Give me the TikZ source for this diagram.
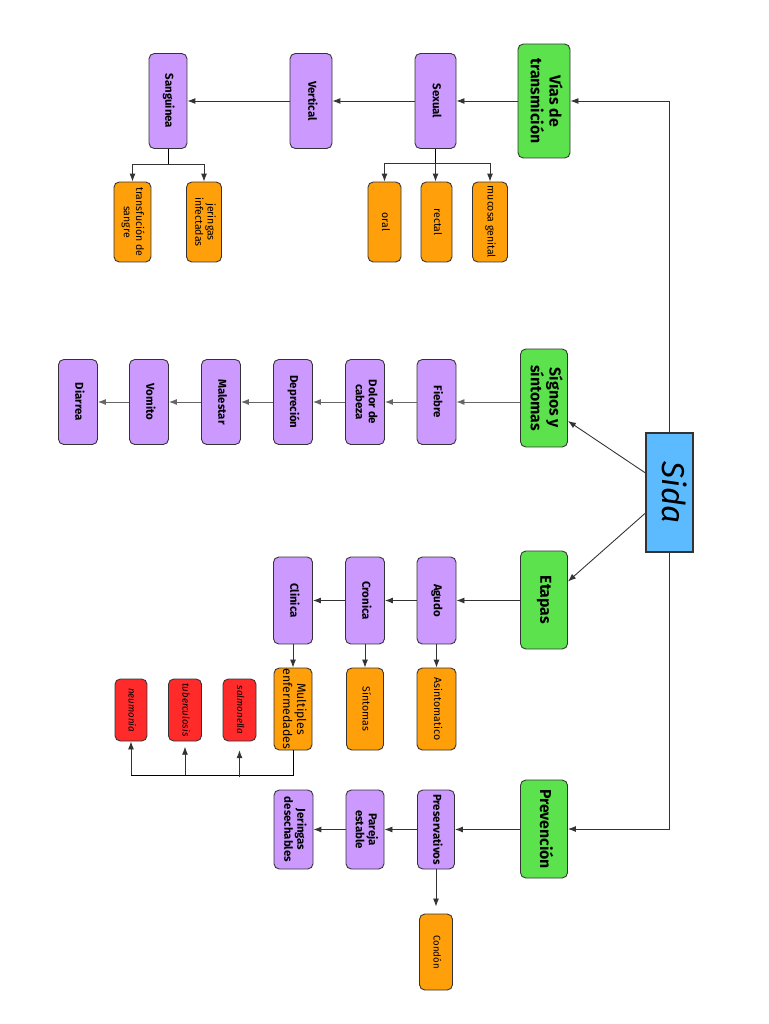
\documentclass[tikz,border=0pt]{standalone}
\usepackage{fontspec}
\setmainfont{Fira Sans}
\usepackage{graphicx}
\usetikzlibrary{arrows.meta,positioning,calc}
\definecolor{sidablue}{HTML}{5CBBFF}
\definecolor{ramagreen}{HTML}{5CE24C}
\definecolor{subpurple}{HTML}{CC99FF}
\definecolor{hojaorange}{HTML}{FF9F0A}
\definecolor{enfred}{HTML}{FF2B2B}
\definecolor{linegray}{HTML}{333333}
\newcommand{\vtxt}[1]{\rotatebox{-90}{\begin{tabular}{@{}c@{}}#1\end{tabular}}}

\begin{document}
\begin{tikzpicture}[x=0.02cm,y=-0.02cm,
  base/.style={draw=black!80,rounded corners=3pt,align=center,inner sep=0pt,line width=0.5pt},
  rama/.style={base,fill=ramagreen,minimum width=0.94cm,minimum height=1.96cm,font=\fontsize{9}{10.5}\selectfont\bfseries},
  sub/.style={base,fill=subpurple,minimum width=0.78cm,minimum height=1.9cm,font=\fontsize{6.5}{7.5}\selectfont\bfseries},
  hoja/.style={base,fill=hojaorange,minimum width=0.7cm,minimum height=1.6cm,font=\fontsize{6}{7}\selectfont},
  enf/.style={base,fill=enfred,minimum width=0.66cm,minimum height=1.24cm,font=\fontsize{5.5}{6.5}\selectfont\itshape},
  arr/.style={-{Latex[length=1.6mm,width=1.2mm]},draw=linegray,line width=0.5pt}
]
\fill[white] (0,0) rectangle (768,1024);
\useasboundingbox (0,0) rectangle (768,1024);

% centre
\node[draw=black!80,fill=sidablue,line width=0.6pt,minimum width=0.94cm,minimum height=2.38cm,inner sep=0pt,
  font=\fontsize{18}{20}\selectfont\itshape] (sida) at (669.5,492.5) {\vtxt{Sida}};

% ramas
\node[rama,minimum width=1.04cm,minimum height=2.28cm] (vias) at (544,101) {\vtxt{Vías de\\transmición}};
\node[rama] (signos) at (544,398) {\vtxt{Sígnos y\\síntomas}};
\node[rama] (etapas) at (544,600) {\vtxt{Etapas}};
\node[rama] (prev) at (544,829) {\vtxt{Prevención}};

\draw[arr] (sida.north) |- (vias.east);
\draw[arr] (sida.south) |- (prev.east);
\draw[arr] ([yshift=0.39cm]sida.west) -- ([yshift=-0.46cm]signos.east);
\draw[arr] ([yshift=-0.41cm]sida.west) -- ([yshift=0.37cm]etapas.east);

% vias de transmicion
\node[sub,minimum width=0.82cm] (sexual) at (435.5,101) {\vtxt{Sexual}};
\node[sub,minimum width=0.84cm] (vertical) at (311,101) {\vtxt{Vertical}};
\node[sub,minimum width=0.76cm] (sanguinea) at (168,101) {\vtxt{Sanguinea}};
\node[hoja,minimum width=0.74cm] (transf) at (132.5,222) {\vtxt{transfución de\\sangre}};
\node[hoja] (jeringas) at (204,222) {\vtxt{jeringas\\infectadas}};
\node[hoja,minimum width=0.66cm] (oral) at (384.5,222) {\vtxt{oral}};
\node[hoja,minimum width=0.62cm] (rectal) at (436.5,222) {\vtxt{rectal}};
\node[hoja] (mucosa) at (490,222) {\vtxt{mucosa genital}};

\draw[arr] (vias.west) -- (sexual.east);
\draw[arr] (sexual.west) -- (vertical.east);
\draw[arr] (vertical.west) -- (sanguinea.east);
\draw (sexual.south) -- ++(0,15) coordinate (sexfork);
\draw[arr] (sexfork) -| (oral.north);
\draw[arr] (sexfork) -- (sexfork |- rectal.north);
\draw[arr] (sexfork) -| (mucosa.north);
\draw (sanguinea.south) -- ++(0,16) coordinate (sanfork);
\draw[arr] (sanfork) -| (transf.north);
\draw[arr] (sanfork) -| (jeringas.north);

% signos y sintomas
\begin{scope}[every node/.append style={sub,minimum height=1.7cm}]
\node (fiebre) at (436.5,402) {\vtxt{Fiebre}};
\node (dolor) at (365,402) {\vtxt{Dolor de\\cabeza}};
\node (deprecion) at (293,402) {\vtxt{Depreción}};
\node (malestar) at (221,402) {\vtxt{Malestar}};
\node (vomito) at (149,402) {\vtxt{Vomito}};
\node (diarrea) at (78,402) {\vtxt{Diarrea}};
\end{scope}
\begin{scope}[arr/.append style={draw=black!60}]
\draw[arr] (signos.west |- fiebre) -- (fiebre.east);
\draw[arr] (fiebre.west) -- (dolor.east);
\draw[arr] (dolor.west) -- (deprecion.east);
\draw[arr] (deprecion.west) -- (malestar.east);
\draw[arr] (malestar.west) -- (vomito.east);
\draw[arr] (vomito.west) -- (diarrea.east);
\end{scope}

% etapas
\node[sub,minimum height=1.74cm] (agudo) at (436.5,600.5) {\vtxt{Agudo}};
\node[sub,minimum height=1.74cm] (cronica) at (365,600.5) {\vtxt{Cronica}};
\node[sub,minimum height=1.74cm] (clinica) at (293,600.5) {\vtxt{Clinica}};
\node[hoja,minimum width=0.78cm,minimum height=1.64cm] (asint) at (436.5,709) {\vtxt{Asintomatico}};
\node[hoja,minimum width=0.74cm,minimum height=1.64cm] (sintomas) at (365,709) {\vtxt{Síntomas}};
\node[hoja,minimum width=0.76cm,minimum height=1.64cm,font=\fontsize{7}{8}\selectfont] (multiples) at (293,709) {\vtxt{Multiples\\enfermedades}};
\node[enf,minimum width=0.64cm] (neumonia) at (131,710) {\vtxt{neumonia}};
\node[enf] (tuberculosis) at (185,710) {\vtxt{tuberculosis}};
\node[enf] (salmonella) at (239.5,710) {\vtxt{salmonella}};

\draw[arr] (etapas.west |- agudo) -- (agudo.east);
\draw[arr] (agudo.west) -- (cronica.east);
\draw[arr] (cronica.west) -- (clinica.east);
\draw[arr] (agudo.south) -- (asint.north);
\draw[arr] (cronica.south) -- (sintomas.north);
\draw[arr] (clinica.south) -- (multiples.north);
\draw (multiples.south) -- ++(0,25) coordinate (mfork) -- (mfork -| neumonia.south);
\draw[arr] (mfork -| neumonia.south) -- (neumonia.south);
\draw[arr,shorten >=3pt] (mfork -| tuberculosis.south) -- (tuberculosis.south);
\draw[arr,shorten >=5pt] ([yshift=-0.04cm]mfork -| salmonella.south) -- (salmonella.south);

% prevencion
\node[sub,minimum height=1.58cm,minimum width=0.74cm] (preserv) at (436,829.5) {\vtxt{Preservativos}};
\node[sub,minimum height=1.58cm,minimum width=0.76cm] (pareja) at (365,829.5) {\vtxt{Pareja\\estable}};
\node[sub,minimum height=1.58cm,minimum width=0.78cm] (jeringas2) at (293.5,829.5) {\vtxt{Jeringas\\desechables}};
\node[hoja,minimum width=0.66cm,minimum height=1.52cm,font=\fontsize{5.5}{6.5}\selectfont] (condon) at (436,952) {\vtxt{Condón}};

\draw[arr] (prev.west |- preserv) -- (preserv.east);
\draw[arr] (preserv.west) -- (pareja.east);
\draw[arr] (pareja.west) -- (jeringas2.east);
\draw[arr,shorten >=4pt] (preserv.south) -- (condon.north);
\end{tikzpicture}
\end{document}
